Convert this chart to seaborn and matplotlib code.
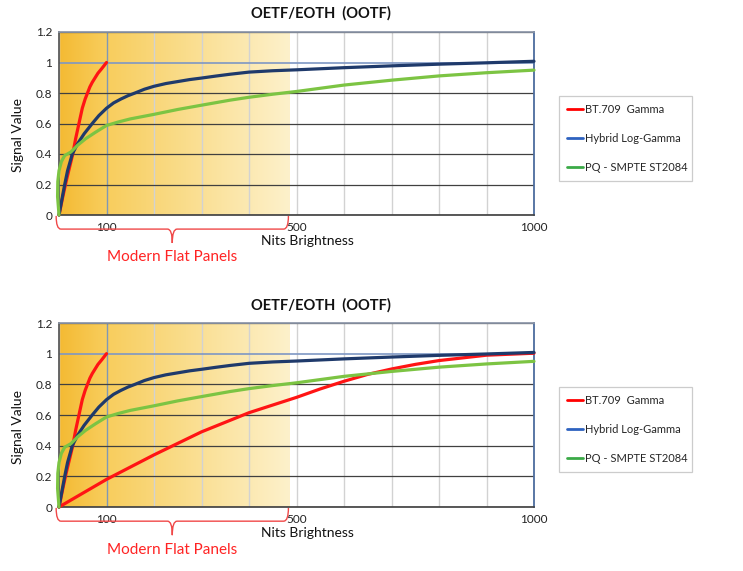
import numpy as np
import pandas as pd
import matplotlib
matplotlib.use('Agg')
import matplotlib.pyplot as plt
import seaborn as sns
import matplotlib.transforms as mtransforms
from matplotlib.colors import LinearSegmentedColormap
from matplotlib.lines import Line2D
from matplotlib.path import Path
from matplotlib.patches import PathPatch

# values: x in nits, y = signal value
bt709_nits = [0, 8, 15, 22, 29, 35, 42, 49, 55, 60, 65, 70, 76, 82, 90, 100]
bt709_sig = [0, 0.12, 0.22, 0.31, 0.40, 0.50, 0.60, 0.70, 0.76, 0.80, 0.84, 0.87,
             0.90, 0.93, 0.96, 1.0]

hlg_nits = [0, 6, 12, 18, 28, 39, 53, 70, 84, 100, 115, 130, 145, 160, 180, 200,
            225, 250, 275, 300, 330, 360, 400, 450, 500, 600, 700, 800, 900, 1000]
hlg_sig = [0, 0.10, 0.20, 0.29, 0.40, 0.467, 0.533, 0.60, 0.652, 0.70, 0.735, 0.76,
           0.782, 0.80, 0.825, 0.844, 0.862, 0.875, 0.888, 0.898, 0.911, 0.923, 0.937,
           0.946, 0.952, 0.966, 0.978, 0.989, 0.998, 1.008]

pq_nits = [0, -3, -2.5, 0, 5, 12, 25, 39, 56, 77, 100, 125, 150, 200, 250, 300, 360,
           400, 450, 500, 600, 700, 800, 900, 1000]
pq_sig = [0, 0.12, 0.22, 0.29, 0.35, 0.39, 0.413, 0.457, 0.50, 0.543, 0.587, 0.61,
          0.63, 0.66, 0.692, 0.72, 0.753, 0.772, 0.792, 0.81, 0.852, 0.884, 0.912,
          0.933, 0.95]

# second chart: BT.709 stretched out to 1000 nits
bt709_ootf_nits = [0, 100, 200, 300, 400, 500, 550, 600, 650, 700, 750, 800, 900, 1000]
bt709_ootf_sig = [0, 0.18, 0.34, 0.49, 0.615, 0.715, 0.77, 0.82, 0.865, 0.90, 0.93,
                  0.955, 0.99, 1.003]

series_names = ['BT.709  Gamma', 'Hybrid Log-Gamma', 'PQ - SMPTE ST2084']
line_colors = {'BT.709  Gamma': '#FF1414', 'Hybrid Log-Gamma': '#1F3A6B',
               'PQ - SMPTE ST2084': '#7CC443'}
legend_colors = ['#FF0000', '#2E62C0', '#3BAA47']

x_ticks = [0, 100, 200, 300, 400, 500, 600, 700, 800, 900, 1000]
x_tick_labels = ['', '100', '', '', '', '500', '', '', '', '', '1000']
y_ticks = [0, 0.2, 0.4, 0.6, 0.8, 1.0, 1.2]
y_tick_labels = ['0', '0.2', '0.4', '0.6', '0.8', '1', '1.2']

title = 'OETF/EOTH  (OOTF)'
panel_note = 'Modern Flat Panels'


def make_df(segments):
    rows = []
    for seg_id, (name, xs, ys) in enumerate(segments):
        for x, y in zip(xs, ys):
            rows.append({'nits': x, 'signal': y, 'series': name, 'seg': seg_id})
    return pd.DataFrame(rows)


top_df = make_df([
    (series_names[0], bt709_nits, bt709_sig),
    (series_names[1], hlg_nits, hlg_sig),
    (series_names[2], pq_nits, pq_sig),
])
bottom_df = make_df([
    (series_names[0], bt709_nits, bt709_sig),
    (series_names[0], bt709_ootf_nits, bt709_ootf_sig),
    (series_names[1], hlg_nits, hlg_sig),
    (series_names[2], pq_nits, pq_sig),
])

sns.set_theme(style='white')
plt.rcParams['font.family'] = ['Lato', 'DejaVu Sans']

fig = plt.figure(figsize=(7.43, 5.71), dpi=100)
W, H = 743, 571

grad_cmap = LinearSegmentedColormap.from_list(
    'warm', [(0, '#F4BA33'), (0.2, '#F8CD5C'), (0.55, '#FADD8C'), (1.0, '#FDF1CB')])


def brace(ax, x0, x1, y_top=-0.005, y_mid=-0.077, y_tip=-0.153, r=10):
    xc = (x0 + x1) / 2
    verts = [(x0, y_top), (x0, y_mid), (x0 + r, y_mid), (xc - r, y_mid), (xc, y_mid), (xc, y_tip),
             (xc, y_tip), (xc, y_mid), (xc + r, y_mid), (x1 - r, y_mid), (x1, y_mid), (x1, y_top)]
    codes = [Path.MOVETO, Path.CURVE3, Path.CURVE3, Path.LINETO, Path.CURVE3, Path.CURVE3,
             Path.MOVETO, Path.CURVE3, Path.CURVE3, Path.LINETO, Path.CURVE3, Path.CURVE3]
    trans = mtransforms.blended_transform_factory(ax.transData, ax.transAxes)
    patch = PathPatch(Path(verts, codes), fill=False, edgecolor='#F04848', lw=1.0,
                      transform=trans, clip_on=False)
    ax.add_patch(patch)
    ax.text(xc, -0.232, panel_note, transform=trans, ha='center', va='center',
            color='#FF2323', fontsize=11)


def draw_panel(rect, df, title_y, legend_box):
    ax = fig.add_axes(rect)
    grad = np.linspace(0, 1, 256).reshape(1, -1)
    ax.imshow(grad, extent=[0, 485, 0, 1.2], aspect='auto', cmap=grad_cmap, zorder=0)

    sns.lineplot(data=df, x='nits', y='signal', hue='series', units='seg',
                 estimator=None, sort=False, palette=line_colors, lw=2.3,
                 legend=False, ax=ax, clip_on=False, zorder=3)

    ax.set_xlim(0, 1000)
    ax.set_ylim(0, 1.2)
    ax.set_xticks(x_ticks)
    ax.set_xticklabels(x_tick_labels)
    ax.set_yticks(y_ticks)
    ax.set_yticklabels(y_tick_labels)
    ax.tick_params(axis='both', length=0, labelsize=8.5, pad=5, colors='#222222')

    ax.set_axisbelow(True)
    ax.grid(axis='x', color='#D2D2D2', lw=1.0)
    ax.grid(axis='y', color='#404040', lw=0.9)
    ax.get_xgridlines()[1].set_color('#7F98B5')
    ax.get_ygridlines()[5].set_color('#7E97C4')
    ax.get_ygridlines()[5].set_linewidth(1.2)

    ax.spines['left'].set_color('#555555')
    ax.spines['bottom'].set_color('#444444')
    ax.spines['top'].set_color('#8C96A8')
    ax.spines['right'].set_color('#4C6C9E')
    ax.spines['right'].set_linewidth(1.3)
    for s in ax.spines.values():
        s.set_zorder(2.5)

    ax.set_xlabel('Nits Brightness', fontsize=10, color='#111111')
    ax.xaxis.label.set_va('center')
    ax.xaxis.set_label_coords(0.523, -0.143)
    ax.set_ylabel('Signal Value', fontsize=10, color='#111111')
    ax.yaxis.label.set_va('center')
    ax.yaxis.set_label_coords(-0.086, 0.437)

    ax.set_title(title, x=0.552, y=title_y, va='center', pad=0, fontsize=10.5,
                 fontweight='bold', color='#111111')

    brace(ax, -6, 483)

    handles = [Line2D([], [], color=c, lw=2.0) for c in legend_colors]
    leg = fig.legend(handles, series_names, loc='center', bbox_to_anchor=legend_box,
                     mode='expand', fontsize=8, frameon=True, fancybox=False,
                     edgecolor='#CCCCCC', framealpha=1, handlelength=1.4,
                     handletextpad=0.25, labelspacing=1.62, borderpad=0.72,
                     borderaxespad=0)
    leg.get_frame().set_linewidth(0.9)
    return ax


draw_panel([59 / W, 1 - 215 / H, 475 / W, 183 / H], top_df, 1.104,
           (559 / W, 1 - 184 / H, 133 / W, 91 / H))
draw_panel([59 / W, 1 - 507 / H, 475 / W, 184 / H], bottom_df, 1.098,
           (559 / W, 1 - 475 / H, 133 / W, 91 / H))

fig.savefig('out.png', dpi=100)
